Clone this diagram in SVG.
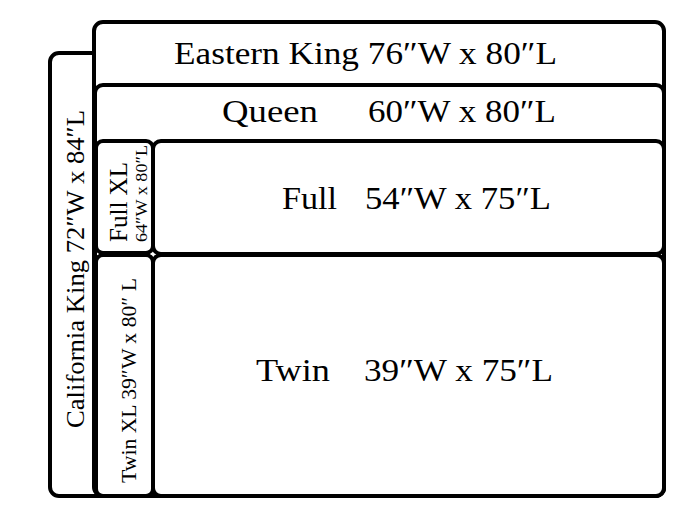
<svg xmlns="http://www.w3.org/2000/svg" width="700" height="522" viewBox="0 0 700 522">
<style>
  .box { fill: #ffffff; stroke: #000000; stroke-width: 4; }
  .t { font-family: "Liberation Serif", "Times New Roman", serif; fill: #000000; }
  .big { font-size: 32px; }
</style>
<rect width="700" height="522" fill="#ffffff"/>
<g id="california-king">
  <rect class="box" x="50" y="53" width="614" height="443" rx="9"/>
  <text class="t" font-size="25" transform="translate(84,428) rotate(-90)" textLength="318" lengthAdjust="spacingAndGlyphs">California King 72″W x 84″L</text>
</g>
<g id="eastern-king">
  <rect class="box" x="94" y="22" width="570" height="474" rx="9"/>
  <text class="t big" x="174" y="64" textLength="383" lengthAdjust="spacingAndGlyphs">Eastern King 76″W x 80″L</text>
</g>
<g id="queen">
  <rect class="box" x="95" y="85" width="569" height="411" rx="8"/>
  <text class="t big" x="222" y="122" textLength="96" lengthAdjust="spacingAndGlyphs">Queen</text>
  <text class="t big" x="368" y="122" textLength="188" lengthAdjust="spacingAndGlyphs">60″W x 80″L</text>
</g>
<g id="full-xl">
  <rect class="box" x="96" y="141" width="57" height="112" rx="7"/>
  <text class="t" font-size="25" transform="translate(127,242) rotate(-90)" textLength="80" lengthAdjust="spacingAndGlyphs">Full XL</text>
  <text class="t" font-size="16" transform="translate(147,242) rotate(-90)" textLength="97" lengthAdjust="spacingAndGlyphs">64″W x 80″L</text>
</g>
<g id="full">
  <rect class="box" x="153" y="141" width="511" height="113" rx="8"/>
  <text class="t big" x="282" y="209" textLength="55" lengthAdjust="spacingAndGlyphs">Full</text>
  <text class="t big" x="365" y="209" textLength="186" lengthAdjust="spacingAndGlyphs">54″W x 75″L</text>
</g>
<g id="twin-xl">
  <rect class="box" x="96" y="255" width="57" height="241" rx="7"/>
  <text class="t" font-size="22" transform="translate(136,483) rotate(-90)" textLength="205" lengthAdjust="spacingAndGlyphs">Twin XL 39″W x 80″ L</text>
</g>
<g id="twin">
  <rect class="box" x="153" y="255" width="511" height="241" rx="8"/>
  <text class="t big" x="256" y="381" textLength="74" lengthAdjust="spacingAndGlyphs">Twin</text>
  <text class="t big" x="364" y="381" textLength="189" lengthAdjust="spacingAndGlyphs">39″W x 75″L</text>
</g>
<g id="connectors"></g>
</svg>
